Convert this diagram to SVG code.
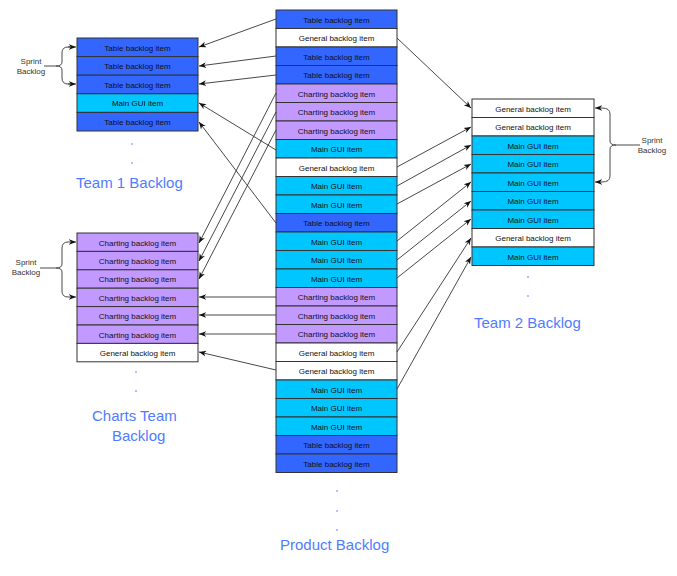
<svg xmlns="http://www.w3.org/2000/svg" width="677" height="576" viewBox="0 0 677 576">
<style>
rect{stroke:#333;stroke-width:1}
.t{fill:#3366ff}.m{fill:#00c6ff}.c{fill:#c299ff}.g{fill:#fff}
text{font-family:"Liberation Sans",Arial,sans-serif;font-size:8px;fill:#111;text-anchor:middle}
.h{font-size:15px;fill:#4f7cff;text-anchor:start}
.s{font-size:8px;fill:#333}
.d{fill:#4f7cff}
line,path{stroke:#333;stroke-width:0.9;fill:none}
</style>
<defs><marker id="a" viewBox="0 0 10 10" refX="10" refY="5" markerWidth="8" markerHeight="8" orient="auto"><path d="M0,1 L10,5 L0,9 L3,5 z" style="fill:#111;stroke:none"/></marker></defs>
<rect width="677" height="576" style="fill:#fff;stroke:none"/>
<g id="product">
<rect class="t" x="276" y="10" width="121" height="18.5"/><text x="336.5" y="22.5">Table backlog item</text>
<rect class="g" x="276" y="28.5" width="121" height="18.5"/><text x="336.5" y="41">General backlog item</text>
<rect class="t" x="276" y="47" width="121" height="18.5"/><text x="336.5" y="59.5">Table backlog item</text>
<rect class="t" x="276" y="65.5" width="121" height="18.5"/><text x="336.5" y="78">Table backlog item</text>
<rect class="c" x="276" y="84" width="121" height="18.5"/><text x="336.5" y="96.5">Charting backlog item</text>
<rect class="c" x="276" y="102.5" width="121" height="18.5"/><text x="336.5" y="115">Charting backlog item</text>
<rect class="c" x="276" y="121" width="121" height="18.5"/><text x="336.5" y="133.5">Charting backlog item</text>
<rect class="m" x="276" y="139.5" width="121" height="18.5"/><text x="336.5" y="152">Main GUI item</text>
<rect class="g" x="276" y="158" width="121" height="18.5"/><text x="336.5" y="170.5">General backlog item</text>
<rect class="m" x="276" y="176.5" width="121" height="18.5"/><text x="336.5" y="189">Main GUI item</text>
<rect class="m" x="276" y="195" width="121" height="18.5"/><text x="336.5" y="207.5">Main GUI item</text>
<rect class="t" x="276" y="213.5" width="121" height="18.5"/><text x="336.5" y="226">Table backlog item</text>
<rect class="m" x="276" y="232" width="121" height="18.5"/><text x="336.5" y="244.5">Main GUI item</text>
<rect class="m" x="276" y="250.5" width="121" height="18.5"/><text x="336.5" y="263">Main GUI item</text>
<rect class="m" x="276" y="269" width="121" height="18.5"/><text x="336.5" y="281.5">Main GUI item</text>
<rect class="c" x="276" y="287.5" width="121" height="18.5"/><text x="336.5" y="300">Charting backlog item</text>
<rect class="c" x="276" y="306" width="121" height="18.5"/><text x="336.5" y="318.5">Charting backlog item</text>
<rect class="c" x="276" y="324.5" width="121" height="18.5"/><text x="336.5" y="337">Charting backlog item</text>
<rect class="g" x="276" y="343" width="121" height="18.5"/><text x="336.5" y="355.5">General backlog item</text>
<rect class="g" x="276" y="361.5" width="121" height="18.5"/><text x="336.5" y="374">General backlog item</text>
<rect class="m" x="276" y="380" width="121" height="18.5"/><text x="336.5" y="392.5">Main GUI item</text>
<rect class="m" x="276" y="398.5" width="121" height="18.5"/><text x="336.5" y="411">Main GUI item</text>
<rect class="m" x="276" y="417" width="121" height="18.5"/><text x="336.5" y="429.5">Main GUI item</text>
<rect class="t" x="276" y="435.5" width="121" height="18.5"/><text x="336.5" y="448">Table backlog item</text>
<rect class="t" x="276" y="454" width="121" height="18.5"/><text x="336.5" y="466.5">Table backlog item</text>
<circle class="d" cx="337" cy="491" r="0.8"/><circle class="d" cx="337" cy="511" r="0.8"/><circle class="d" cx="337" cy="530" r="0.8"/>
<text class="h" x="280" y="550">Product Backlog</text>
</g>
<g id="team1">
<rect class="t" x="77" y="38" width="121" height="18.6"/><text x="137.5" y="50.5">Table backlog item</text>
<rect class="t" x="77" y="56.6" width="121" height="18.6"/><text x="137.5" y="69">Table backlog item</text>
<rect class="t" x="77" y="75.2" width="121" height="18.6"/><text x="137.5" y="87.7">Table backlog item</text>
<rect class="m" x="77" y="93.8" width="121" height="18.6"/><text x="137.5" y="106.3">Main GUI item</text>
<rect class="t" x="77" y="112.4" width="121" height="18.6"/><text x="137.5" y="124.9">Table backlog item</text>
<circle class="d" cx="132" cy="144" r="0.8"/><circle class="d" cx="132" cy="163" r="0.8"/>
<text class="h" x="76" y="188">Team 1  Backlog</text>
<path d="M74,47 L68,47 Q62,47 62,53 L62,62 Q62,66 56,66 Q62,66 62,70 L62,78 Q62,84 68,84 L74,84" marker-start="none"/>
<line x1="68" y1="47" x2="76" y2="47" marker-end="url(#a)"/><line x1="68" y1="84" x2="76" y2="84" marker-end="url(#a)"/>
<line x1="44" y1="66" x2="56" y2="66"/>
<text class="s" x="31" y="64">Sprint</text><text class="s" x="31" y="74">Backlog</text>
</g>
<g id="charts">
<rect class="c" x="77" y="233" width="121" height="18.4"/><text x="137.5" y="245.5">Charting backlog item</text>
<rect class="c" x="77" y="251.4" width="121" height="18.4"/><text x="137.5" y="263.9">Charting backlog item</text>
<rect class="c" x="77" y="269.8" width="121" height="18.4"/><text x="137.5" y="282.3">Charting backlog item</text>
<rect class="c" x="77" y="288.2" width="121" height="18.4"/><text x="137.5" y="300.7">Charting backlog item</text>
<rect class="c" x="77" y="306.6" width="121" height="18.4"/><text x="137.5" y="319.1">Charting backlog item</text>
<rect class="c" x="77" y="325" width="121" height="18.4"/><text x="137.5" y="337.5">Charting backlog item</text>
<rect class="g" x="77" y="343.4" width="121" height="18.4"/><text x="137.5" y="355.9">General backlog item</text>
<circle class="d" cx="136" cy="372" r="0.8"/><circle class="d" cx="136" cy="391" r="0.8"/>
<text class="h" x="92" y="421">Charts Team</text><text class="h" x="112" y="441">Backlog</text>
<path d="M68,242 Q62,242 62,248 L62,264 Q62,268 56,268 Q62,268 62,272 L62,291 Q62,297 68,297"/>
<line x1="68" y1="242" x2="76" y2="242" marker-end="url(#a)"/><line x1="68" y1="297" x2="76" y2="297" marker-end="url(#a)"/>
<line x1="40" y1="268" x2="56" y2="268"/>
<text class="s" x="26" y="265">Sprint</text><text class="s" x="26" y="275">Backlog</text>
</g>
<g id="team2">
<rect class="g" x="472" y="99" width="122" height="18.5"/><text x="533" y="111.5">General backlog item</text>
<rect class="g" x="472" y="117.5" width="122" height="18.5"/><text x="533" y="130">General backlog item</text>
<rect class="m" x="472" y="136" width="122" height="18.5"/><text x="533" y="148.5">Main GUI item</text>
<rect class="m" x="472" y="154.5" width="122" height="18.5"/><text x="533" y="167">Main GUI item</text>
<rect class="m" x="472" y="173" width="122" height="18.5"/><text x="533" y="185.5">Main GUI item</text>
<rect class="m" x="472" y="191.5" width="122" height="18.5"/><text x="533" y="204">Main GUI item</text>
<rect class="m" x="472" y="210" width="122" height="18.5"/><text x="533" y="222.5">Main GUI item</text>
<rect class="g" x="472" y="228.5" width="122" height="18.5"/><text x="533" y="241">General backlog item</text>
<rect class="m" x="472" y="247" width="122" height="18.5"/><text x="533" y="259.5">Main GUI item</text>
<circle class="d" cx="528" cy="277" r="0.8"/><circle class="d" cx="528" cy="296" r="0.8"/>
<text class="h" x="474" y="328">Team 2 Backlog</text>
<path d="M602,108 Q610,108 610,114 L610,141 Q610,145 616,145 Q610,145 610,149 L610,176 Q610,182 602,182"/>
<line x1="602" y1="108" x2="595" y2="108" marker-end="url(#a)"/><line x1="602" y1="182" x2="595" y2="182" marker-end="url(#a)"/>
<line x1="616" y1="145" x2="640" y2="145"/>
<text class="s" x="652" y="143">Sprint</text><text class="s" x="652" y="153">Backlog</text>
</g>
<g id="connectors" marker-end="url(#a)">
<line x1="276" y1="19" x2="199" y2="47"/>
<line x1="276" y1="56" x2="199" y2="66"/>
<line x1="276" y1="75" x2="199" y2="84"/>
<line x1="276" y1="150" x2="199" y2="103"/>
<line x1="276" y1="223" x2="199" y2="122"/>
<line x1="276" y1="93" x2="199" y2="243"/>
<line x1="276" y1="112" x2="199" y2="261"/>
<line x1="276" y1="130" x2="199" y2="279"/>
<line x1="276" y1="297" x2="199" y2="297"/>
<line x1="276" y1="315" x2="199" y2="315"/>
<line x1="276" y1="334" x2="199" y2="334"/>
<line x1="276" y1="370" x2="199" y2="352"/>
<line x1="397" y1="38" x2="471" y2="108"/>
<line x1="397" y1="167" x2="471" y2="127"/>
<line x1="397" y1="186" x2="471" y2="145"/>
<line x1="397" y1="204" x2="471" y2="164"/>
<line x1="397" y1="241" x2="471" y2="182"/>
<line x1="397" y1="260" x2="471" y2="201"/>
<line x1="397" y1="278" x2="471" y2="219"/>
<line x1="397" y1="352" x2="471" y2="238"/>
<line x1="397" y1="389" x2="471" y2="257"/>
</g>
</svg>
